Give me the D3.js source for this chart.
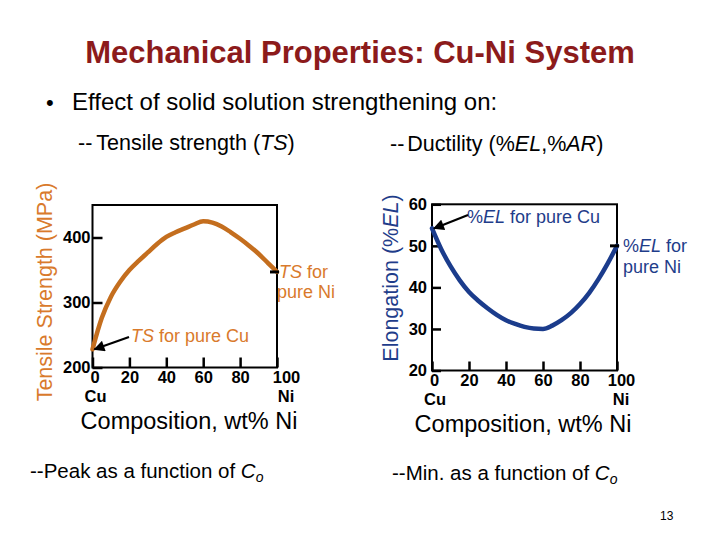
<!DOCTYPE html>
<html>
<head>
<meta charset="utf-8">
<script src="https://cdn.jsdelivr.net/npm/d3@7"></script>
<style>
  html, body { margin: 0; padding: 0; background: #fff; }
  svg { display: block; font-family: "Liberation Sans", Arial, sans-serif; }
</style>
</head>
<body>
<svg id="chart" width="720" height="540"></svg>
<script>
// ---------- data ----------
const composition = [0, 5, 10, 15, 20, 25, 30, 35, 40, 45, 50, 55, 60, 65, 70, 75, 80, 85, 90, 95, 100];
const tensileMPa  = [228, 276, 309, 332, 350, 364, 377, 390, 401, 408, 414, 420, 425, 423, 417, 408, 398, 387, 375, 361, 347];
const elongPct    = [54.2, 49.2, 45.1, 41.7, 38.9, 36.8, 35.0, 33.4, 32.1, 31.2, 30.5, 30.1, 30.0, 30.8, 32.1, 33.8, 36.0, 38.7, 42.0, 45.8, 50.0];
const compTicks   = [0, 20, 40, 60, 80, 100];
const tsTicks     = [200, 300, 400];
const elTicks     = [20, 30, 40, 50, 60];

const FONT = '"Liberation Sans", Arial, sans-serif';
const TS_COLOR = '#c46e1e', TS_TEXT = '#d97a2c';
const EL_COLOR = '#1b3c8c', EL_TEXT = '#1f3d8a';

const svg = d3.select('#chart');
svg.append('rect').attr('width', 720).attr('height', 540).attr('fill', '#fff');

// arrow marker
svg.append('defs').append('marker')
  .attr('id', 'arrow').attr('viewBox', '0 0 10 10')
  .attr('refX', 9).attr('refY', 5)
  .attr('markerWidth', 6).attr('markerHeight', 5)
  .attr('markerUnits', 'strokeWidth')
  .attr('orient', 'auto')
  .append('path').attr('d', 'M0,0 L10,5 L0,10 Z').attr('fill', '#000');

// ---------- headings ----------
svg.append('text').attr('x', 360).attr('y', 63).attr('text-anchor', 'middle')
  .attr('font-size', 31).attr('font-weight', 'bold').attr('fill', '#8c1b1b')
  .text('Mechanical Properties: Cu-Ni System');

svg.append('text').attr('x', 46).attr('y', 110).attr('font-size', 22).text('•');
svg.append('text').attr('x', 72).attr('y', 110).attr('font-size', 24)
  .text('Effect of solid solution strengthening on:');

const t1 = svg.append('text').attr('x', 78).attr('y', 150).attr('font-size', 21.5);
t1.append('tspan').text('--');
t1.append('tspan').attr('dx', 4).text('Tensile strength (');
t1.append('tspan').attr('font-style', 'italic').text('TS');
t1.append('tspan').text(')');

const t2 = svg.append('text').attr('x', 390).attr('y', 151).attr('font-size', 21.5);
t2.append('tspan').text('--');
t2.append('tspan').attr('dx', 3).text('Ductility (%');
t2.append('tspan').attr('font-style', 'italic').text('EL');
t2.append('tspan').text(',%');
t2.append('tspan').attr('font-style', 'italic').text('AR');
t2.append('tspan').text(')');

function footer(x, y, lead) {
  const t = svg.append('text').attr('x', x).attr('y', y).attr('font-size', 20.5);
  t.append('tspan').text(lead);
  t.append('tspan').attr('font-style', 'italic').text('C');
  t.append('tspan').attr('font-style', 'italic').attr('font-size', 14).attr('dy', 4).text('o');
}
footer(30, 478, '--Peak as a function of ');
footer(392, 480, '--Min. as a function of ');

svg.append('text').attr('x', 660).attr('y', 520).attr('font-size', 12).text('13');

// ---------- panel builder ----------
function panel(cfg) {
  const x = d3.scaleLinear().domain([0, 100]).range(cfg.xRange);
  const y = d3.scaleLinear().domain(cfg.yDomain).range(cfg.yRange);
  const g = svg.append('g');

  // bottom axis: inward ticks, outward labels
  const xa = g.append('g').attr('transform', `translate(0,${cfg.yRange[0]})`)
    .call(d3.axisBottom(x).tickValues(compTicks).tickSize(-cfg.tick).tickPadding(4).tickFormat(d3.format('d')));
  // left axis
  const ya = g.append('g').attr('transform', `translate(${cfg.xRange[0]},0)`)
    .call(d3.axisLeft(y).tickValues(cfg.yTicks).tickSize(-cfg.tick).tickPadding(cfg.yPad).tickFormat(d3.format('d')));
  [xa, ya].forEach(a => {
    a.select('.domain').remove();
    a.selectAll('.tick line').attr('stroke', '#000').attr('stroke-width', 2.5);
    a.selectAll('.tick text').attr('font-family', FONT).attr('font-size', 16.5)
      .attr('font-weight', 'bold').attr('fill', '#000');
  });
  xa.selectAll('.tick text').filter(d => d === 100).attr('dx', cfg.dx100);
  xa.selectAll('.tick text').filter(d => d === 0).attr('dx', 2);

  // Cu / Ni end labels
  g.append('text').attr('x', x(0) + 3).attr('y', cfg.yRange[0] + 34).attr('text-anchor', 'middle')
    .attr('font-size', 16.5).attr('font-weight', 'bold').text('Cu');
  g.append('text').attr('x', x(100) + cfg.dx100).attr('y', cfg.yRange[0] + 34).attr('text-anchor', 'middle')
    .attr('font-size', 16.5).attr('font-weight', 'bold').text('Ni');

  // frame
  g.append('rect').attr('x', cfg.xRange[0]).attr('y', cfg.yRange[1])
    .attr('width', cfg.xRange[1] - cfg.xRange[0]).attr('height', cfg.yRange[0] - cfg.yRange[1])
    .attr('fill', 'none').attr('stroke', '#000').attr('stroke-width', 2);

  // curve
  const line = d3.line().x((d, i) => x(composition[i])).y(d => y(d)).curve(d3.curveMonotoneX);
  g.append('path').datum(cfg.values).attr('d', line)
    .attr('fill', 'none').attr('stroke', cfg.color).attr('stroke-width', 4.5)
    .attr('stroke-linecap', 'round').attr('stroke-linejoin', 'round');

  // Ni end marker
  const last = cfg.values[cfg.values.length - 1];
  g.append('line').attr('x1', x(100) - 7).attr('x2', x(100) + 2)
    .attr('y1', y(last)).attr('y2', y(last)).attr('stroke', '#000').attr('stroke-width', 3);

  // x title
  g.append('text').attr('x', cfg.titleX).attr('y', cfg.yRange[0] + 61).attr('text-anchor', 'middle')
    .attr('font-size', 23.5).text('Composition, wt% Ni');

  // y title
  const yt = g.append('text').attr('transform', `translate(${cfg.yTitleX},${cfg.yTitleY}) rotate(-90)`)
    .attr('text-anchor', 'middle').attr('font-size', 21.5).attr('fill', cfg.textColor);
  cfg.yTitle.forEach(p => yt.append('tspan').attr('font-style', p.i ? 'italic' : null).text(p.t));

  return { x, y, g };
}

function richText(g, xPos, yPos, parts, color) {
  const t = g.append('text').attr('x', xPos).attr('y', yPos).attr('font-size', 18).attr('fill', color);
  parts.forEach(p => t.append('tspan').attr('font-style', p.i ? 'italic' : null).text(p.t));
  return t;
}

// ---------- left panel: tensile strength ----------
const L = panel({
  xRange: [92.5, 277], yDomain: [200, 450], yRange: [367.5, 205],
  yTicks: tsTicks, tick: 10, yPad: 2, dx100: 9,
  values: tensileMPa, color: TS_COLOR, textColor: TS_TEXT,
  titleX: 189, yTitleX: 52, yTitleY: 292,
  yTitle: [{ t: 'Tensile Strength (MPa)' }]
});
richText(L.g, 279, 278, [{ t: 'TS', i: true }, { t: ' for' }], TS_TEXT);
richText(L.g, 277, 298, [{ t: 'pure Ni' }], TS_TEXT);
richText(L.g, 131, 342, [{ t: 'TS', i: true }, { t: ' for pure Cu' }], TS_TEXT);
L.g.append('line')
  .attr('x1', 129).attr('y1', 337)
  .attr('x2', L.x(0) + 2).attr('y2', L.y(tensileMPa[0]))
  .attr('stroke', '#000').attr('stroke-width', 2.2).attr('marker-end', 'url(#arrow)');

// ---------- right panel: elongation ----------
const R = panel({
  xRange: [432, 617], yDomain: [20, 60], yRange: [370.5, 204.3],
  yTicks: elTicks, tick: 9, yPad: 5, dx100: 4,
  values: elongPct, color: EL_COLOR, textColor: EL_TEXT,
  titleX: 523, yTitleX: 398, yTitleY: 278,
  yTitle: [{ t: 'Elongation (%' }, { t: 'EL', i: true }, { t: ')' }]
});
richText(R.g, 467, 223, [{ t: '%' }, { t: 'EL', i: true }, { t: ' for pure Cu' }], EL_TEXT);
richText(R.g, 623, 252, [{ t: '%' }, { t: 'EL', i: true }, { t: ' for' }], EL_TEXT);
richText(R.g, 623, 273, [{ t: 'pure Ni' }], EL_TEXT);
R.g.append('line')
  .attr('x1', 468).attr('y1', 215)
  .attr('x2', R.x(0) + 2).attr('y2', R.y(elongPct[0]))
  .attr('stroke', '#000').attr('stroke-width', 2.2).attr('marker-end', 'url(#arrow)');
</script>
</body>
</html>
